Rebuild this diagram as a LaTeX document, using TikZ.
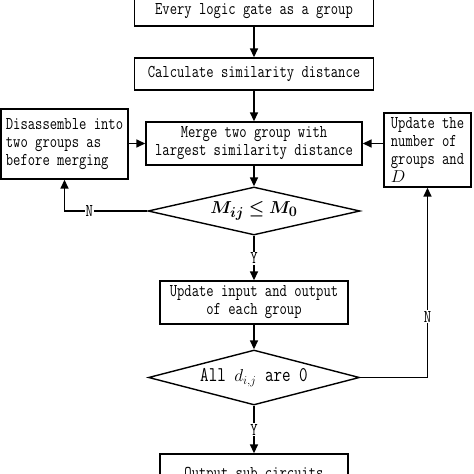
\documentclass[tikz,border=0pt]{standalone}
\usepackage{bm}
\usepackage{fontspec}
\setmainfont[FakeStretch=0.79]{Latin Modern Mono}
\usetikzlibrary{shapes.geometric,arrows.meta}
\begin{document}
\begin{tikzpicture}[x=1pt,y=-1pt,
  every node/.style={font=\fontsize{18}{18}\selectfont},
  box/.style={draw,line width=1.4pt,rectangle,inner sep=0pt,align=center},
  lbox/.style={draw,line width=1.4pt,rectangle,inner sep=0pt,align=left},
  dec/.style={draw,line width=1.4pt,diamond,inner sep=0pt,aspect=4.4},
  conn/.style={line width=1.6pt,-{Triangle[length=9pt,width=8pt]}},
  lab/.style={fill=white,inner sep=1pt}]
\useasboundingbox (0,0) rectangle (474,474);
\clip (0,0) rectangle (474,474);
\node[box,minimum width=239pt,minimum height=30pt] (b1) at (254,11) {Every logic gate as a group};
\node[box,minimum width=239pt,minimum height=32pt] (b2) at (254,74) {Calculate similarity distance};
\node[box,minimum width=216pt,minimum height=43pt] (merge) at (254,143.5) {Merge two group with\\largest similarity distance};
\node[lbox,minimum width=127pt,minimum height=70pt] (dis) at (64.5,144) {Disassemble into\\two groups as\\before merging};
\node[lbox,minimum width=87pt,minimum height=74pt] (upd) at (427.5,150) {Update the\\number of\\groups and\\$D$};
\node[dec,minimum width=212pt,minimum height=48pt] (d1) at (254,211) {\fontsize{19}{19}\selectfont$\bm{M_{ij}\leq M_{0}}$};
\node[box,minimum width=188pt,minimum height=43pt] (b3) at (254,302.5) {Update input and output\\of each group};
\node[dec,minimum width=211pt,minimum height=55pt] (d2) at (254,377.5) {\fontsize{21}{21}\selectfont All \fontsize{17}{17}\selectfont$d_{i,j}$\fontsize{21}{21}\selectfont{} are 0};
\node[box,minimum width=188pt,minimum height=46pt] (b4) at (254,477) {\raisebox{8pt}{Output sub circuits}};
\draw[conn] (b1) -- (b2);
\draw[conn] (b2) -- (merge);
\draw[conn] (merge) -- (d1);
\draw[conn] (d1) -- node[lab]{Y} (b3);
\draw[conn] (b3) -- (d2);
\draw[conn] (d2) -- node[lab]{Y} (b4);
\draw[conn] (d1.west) -| node[lab,pos=0.35]{N} (dis.south);
\draw[conn] (d2.east) -| node[lab,pos=0.66]{N} (upd.south);
\draw[conn] (dis.east |- merge.west) -- (merge.west);
\draw[conn] (upd.west |- merge.east) -- (merge.east);
\end{tikzpicture}
\end{document}
